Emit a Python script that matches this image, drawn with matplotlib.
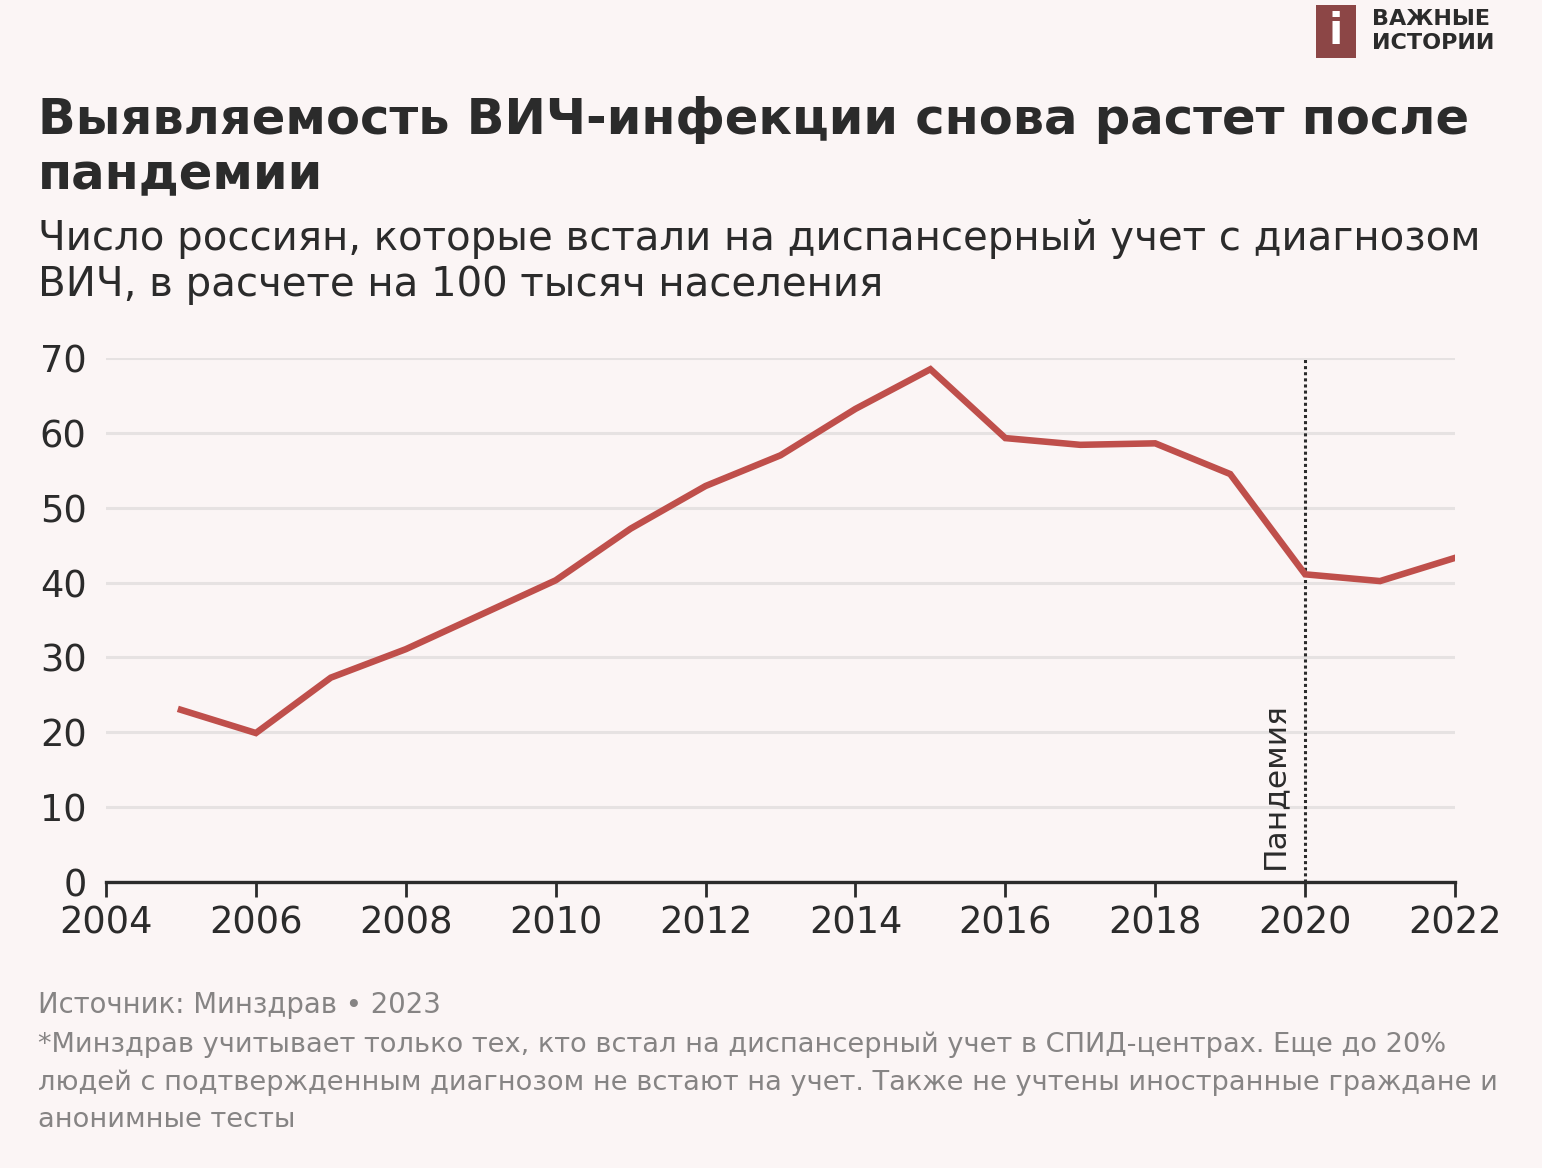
import matplotlib.pyplot as plt
from matplotlib.patches import Rectangle

# Data
years = [2005, 2006, 2007, 2008, 2009, 2010, 2011, 2012, 2013,
         2014, 2015, 2016, 2017, 2018, 2019, 2020, 2021, 2022]
rate = [23.0, 19.9, 27.3, 31.1, 35.7, 40.3, 47.2, 52.9, 57.0,
        63.2, 68.5, 59.3, 58.4, 58.6, 54.5, 41.1, 40.2, 43.3]
x_ticks = [2004, 2006, 2008, 2010, 2012, 2014, 2016, 2018, 2020, 2022]
y_ticks = [0, 10, 20, 30, 40, 50, 60, 70]
pandemic_year = 2020

bg = '#fbf5f5'
dark = '#2b2b2b'
red = '#bf4f4b'

plt.rcParams['font.family'] = ['DejaVu Sans']

fig = plt.figure(figsize=(15.42, 11.68), dpi=100, facecolor=bg)
ax = fig.add_axes([106 / 1542, 1 - 882 / 1168, 1349 / 1542, 524 / 1168])
ax.set_facecolor(bg)

for v in y_ticks[1:]:
    ax.axhline(v, color='#e6e2e2', lw=2.2, zorder=1)

ax.plot(years, rate, color=red, lw=4.7, solid_joinstyle='miter', zorder=3)

ax.axvline(pandemic_year, color=dark, lw=2.2, ls=(0, (1, 1)), zorder=2)
ax.text(pandemic_year - 0.4, 1.8, 'Пандемия', rotation=90, ha='center', va='bottom',
        fontsize=22.5, color=dark)

ax.set_xlim(2004, 2022)
ax.set_ylim(0, 70)
ax.set_xticks(x_ticks)
ax.set_yticks(y_ticks)
for s in ['top', 'right', 'left']:
    ax.spines[s].set_visible(False)
ax.spines['bottom'].set_color(dark)
ax.spines['bottom'].set_linewidth(2.4)
ax.spines['bottom'].set_zorder(4)
ax.tick_params(axis='x', length=11, width=2, color=dark, labelsize=26.5,
               labelcolor=dark, pad=5)
ax.tick_params(axis='y', length=0, labelsize=26.5, labelcolor=dark, pad=14)

# titles
fig.text(38 / 1542, 1 - 96 / 1168,
         'Выявляемость ВИЧ-инфекции снова растет после\nпандемии',
         fontsize=35.7, fontweight='bold', color=dark, va='top', linespacing=1.18)
fig.text(38 / 1542, 1 - 219 / 1168,
         'Число россиян, которые встали на диспансерный учет с диагнозом\nВИЧ, в расчете на 100 тысяч населения',
         fontsize=29, color=dark, va='top', linespacing=1.2)

# footnotes
fig.text(38 / 1542, 1 - 991 / 1168, 'Источник: Минздрав • 2023',
         fontsize=19.8, color='#868484', va='top')
fig.text(38 / 1542, 1 - 1031 / 1168,
         '*Минздрав учитывает только тех, кто встал на диспансерный учет в СПИД-центрах. Еще до 20%\n'
         'людей с подтвержденным диагнозом не встают на учет. Также не учтены иностранные граждане и\n'
         'анонимные тесты',
         fontsize=19.6, color='#868484', va='top', linespacing=1.58)

# logo
fig.patches.append(Rectangle((1316 / 1542, 1 - 58 / 1168), 40 / 1542, 53 / 1168,
                             transform=fig.transFigure, facecolor='#8c4646', edgecolor='none'))
fig.text(1336 / 1542, 1 - 32 / 1168, 'i', fontsize=30, fontweight='bold', color='white',
         ha='center', va='center')
fig.text(1372 / 1542, 1 - 31 / 1168, 'ВАЖНЫЕ\nИСТОРИИ', fontsize=16, fontweight='bold',
         color=dark, va='center', linespacing=1.2)

fig.savefig('out.png', dpi=100, facecolor=bg)
